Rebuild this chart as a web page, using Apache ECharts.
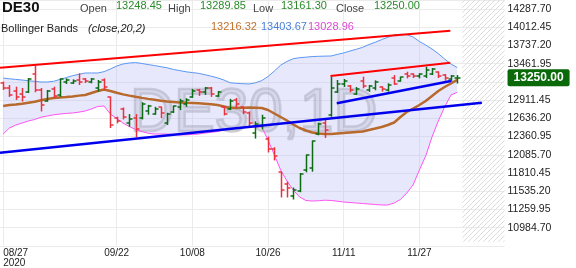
<!DOCTYPE html>
<html><head><meta charset="utf-8">
<script src="https://cdn.jsdelivr.net/npm/echarts@6/dist/echarts.min.js"></script>
<style>html,body{margin:0;padding:0;background:#fff;overflow:hidden}#c{width:576px;height:268px}</style>
</head><body><div id="c"></div>
<script>
// ---- data ----
const dates = ['08/27','08/28','08/31','09/01','09/02','09/03','09/04','09/07','09/08','09/09','09/10','09/11','09/14','09/15','09/16','09/17','09/18','09/21','09/22','09/23','09/24','09/25','09/28','09/29','09/30','10/01','10/02','10/05','10/06','10/07','10/08','10/09','10/12','10/13','10/14','10/15','10/16','10/19','10/20','10/21','10/22','10/23','10/26','10/27','10/28','10/29','10/30','11/02','11/03','11/04','11/05','11/06','11/09','11/10','11/11','11/12','11/13','11/16','11/17','11/18','11/19','11/20','11/23','11/24','11/25','11/26','11/27','11/30','12/01','12/02','12/03','12/04','12/07'];
const futureSlots = 7;
const opens  = [13170,13100,13050,13000,13030,13300,13060,12900,13080,12990,13180,13170,13220,13230,13190,13100,13210,12960,12640,12780,12560,12640,12640,12750,12700,12800,12560,12730,12800,12850,12960,13060,13040,13100,12980,12800,12780,12920,12800,12720,12420,12520,12330,12170,11820,11650,11460,11540,11850,11880,12400,12570,12680,13040,13150,13130,13010,13200,13060,13100,13110,13070,13250,13200,13310,13300,13270,13270,13310,13330,13290,13225,13248.45];
const highs  = [13190,13140,13114,13094,13245,13430,13094,13064,13114,13240,13240,13225,13316,13245,13245,13215,13240,12965,12660,12800,12700,12700,12880,12840,12810,12810,12720,12830,12930,12940,13080,13080,13110,13110,13050,12820,12930,12945,12810,12740,12590,12690,12360,12200,11830,11680,11590,11810,12090,12300,12570,12610,13260,13215,13230,13140,13110,13265,13140,13210,13120,13165,13290,13265,13340,13316,13316,13415,13395,13345,13305,13290,13289.85];
const lows   = [13064,12960,12913,12890,13018,13030,12740,12887,12940,12960,13155,13155,13140,13170,13165,13040,13064,12490,12560,12620,12510,12350,12620,12690,12690,12640,12535,12717,12760,12810,12945,12975,12990,12960,12960,12680,12760,12795,12700,12520,12330,12470,12120,12000,11440,11440,11410,11520,11820,11830,12380,12340,12660,13020,13110,13030,12990,13090,13035,13060,13040,13040,13140,13190,13240,13245,13240,13245,13290,13245,13205,13190,13161.30];
const closes = [13100,12990,12960,12960,13230,13060,12840,13050,12970,13230,13210,13200,13190,13200,13235,13190,13110,12540,12600,12650,12620,12470,12860,12820,12780,12720,12700,12820,12900,12920,13050,13040,13100,13010,13030,12700,12900,12850,12730,12560,12550,12640,12180,12060,11560,11590,11560,11790,12080,12290,12550,12460,13100,13160,13200,13060,13080,13120,13130,13190,13080,13140,13160,13255,13270,13270,13300,13370,13380,13280,13240,13270,13250.00];
const bbUpper  = [13245,13233,13224,13215,13204,13195,13185,13185,13195,13224,13251,13280,13301,13321,13321,13321,13341,13381,13426,13457,13472,13478,13465,13448,13433,13416,13399,13374,13357,13339,13327,13316,13295,13272,13247,13215,13173,13165,13159,13155,13173,13206,13268,13351,13439,13495,13537,13552,13560,13569,13573,13576,13578,13602,13624,13653,13679,13709,13750,13785,13825,13860,13895,13905,13901,13865,13797,13744,13683,13614,13532,13457,13403.67];
const bbMiddle = [12822,12836,12846,12857,12872,12887,12908,12928,12943,12951,12958,12967,12979,12988,13019,13049,13072,13049,13022,12998,12979,12961,12945,12930,12916,12901,12889,12883,12877,12871,12868,12865,12857,12848,12837,12815,12792,12792,12797,12800,12797,12792,12762,12709,12656,12603,12543,12490,12452,12422,12407,12399,12399,12407,12414,12422,12430,12437,12460,12482,12505,12535,12573,12656,12732,12784,12837,12898,12973,13049,13109,13162,13216.32];
const bbLower  = [12399,12490,12535,12565,12596,12618,12653,12671,12689,12701,12710,12717,12729,12747,12777,12815,12822,12701,12634,12565,12513,12467,12437,12410,12399,12399,12399,12392,12384,12387,12392,12399,12414,12425,12437,12460,12475,12490,12497,12505,12505,12505,12309,12082,11855,11689,11553,11448,11395,11387,11391,11399,11395,11384,11372,11364,11357,11349,11342,11334,11327,11327,11357,11410,11508,11629,11855,12067,12354,12596,12807,12988,13028.96];
const xLabelDates = ['08/27','09/22','10/08','10/26','11/11','11/27'];
const yTickMin = 10709.45, yTickStep = 275.25, yAxisTop = 14423.66;
const lastPrice = 13250.00;
// trend lines drawn on the chart: [barIndex, price]
const trendRedLong   = [[-0.5, 13399], [70.9, 13960]];
const trendBlueLong  = [[-0.5, 12115], [75.9, 12872]];
const trendRedShort  = [[51.9, 13276], [70.9, 13476]];
const trendBlueShort = [[52.9, 12863], [71.0, 13200]];
const futureArea = [[72.8, 10770], [79.5, 14423.66]];

// ---- styles ----
const GREEN = '#0d6b12', RED = '#e8333c';
const FONT = 'Arial, "Liberation Sans", sans-serif';

const cats = dates.concat(Array(futureSlots).fill(''));
const ohlc = dates.map((d, i) => [i, opens[i], highs[i], lows[i], closes[i]]);
const pts = arr => arr.map((v, i) => [i, v]);

function renderOHLC(params, api) {
  const i = api.value(0);
  const o = api.value(1), h = api.value(2), l = api.value(3), c = api.value(4);
  const ph = api.coord([i, h]), pl = api.coord([i, l]);
  const po = api.coord([i, o]), pc = api.coord([i, c]);
  const color = c >= o ? GREEN : RED;
  const x = Math.round(ph[0]) + 0.5;
  const t = 3;
  const yo = Math.round(po[1]), yc = Math.round(pc[1]);
  return {type: 'group', children: [
    {type: 'line', shape: {x1: x, y1: ph[1], x2: x, y2: pl[1]}, style: {stroke: color, lineWidth: 1.5}},
    {type: 'line', shape: {x1: x - t, y1: yo, x2: x, y2: yo}, style: {stroke: color, lineWidth: 1.5}},
    {type: 'line', shape: {x1: x, y1: yc, x2: x + t, y2: yc}, style: {stroke: color, lineWidth: 1.5}}
  ]};
}
function renderBand(params, api) {
  const p = [];
  for (let i = 0; i < bbUpper.length; i++) p.push(api.coord([i, bbUpper[i]]));
  for (let i = bbLower.length - 1; i >= 0; i--) p.push(api.coord([i, bbLower[i]]));
  return {type: 'polygon', shape: {points: p}, style: {fill: 'rgba(185,185,245,0.32)'}};
}

const hatch = document.createElement('canvas');
hatch.width = 5; hatch.height = 5;
(function () {
  const g = hatch.getContext('2d');
  g.strokeStyle = '#dcdcdc'; g.lineWidth = 1;
  g.beginPath(); g.moveTo(-1, 6); g.lineTo(6, -1); g.stroke();
})();

const labelIdx = xLabelDates.map(d => dates.indexOf(d));
const showAt = idx => labelIdx.indexOf(idx) >= 0;

const chart = echarts.init(document.getElementById('c'), null, {renderer: 'canvas'});
chart.setOption({
  animation: false,
  backgroundColor: '#fff',
  grid: {left: -1.87, right: 71.47, top: 0, bottom: 22.14, containLabel: false},
  xAxis: [{
    type: 'category', data: cats, boundaryGap: true,
    axisLine: {show: false}, axisTick: {show: false},
    axisLabel: {
      interval: (idx) => showAt(idx), margin: 2, fontSize: 10, color: '#222', fontFamily: FONT, lineHeight: 10,
      alignMinLabel: 'left',
      formatter: (v, idx) => idx === 0 ? v + '\n2020' : v
    },
    splitLine: {show: true, interval: (idx) => showAt(idx), alignWithLabel: true, lineStyle: {color: '#ebebeb', width: 1}}
  }, {
    type: 'value', min: -0.5, max: 79.5, show: false
  }],
  yAxis: {
    type: 'value', position: 'right', min: yTickMin, max: yAxisTop, interval: yTickStep,
    axisLine: {show: false}, axisTick: {show: false},
    splitLine: {lineStyle: {color: '#ebebeb', width: 1}},
    axisLabel: {showMinLabel: false, showMaxLabel: false, margin: 3, fontSize: 10.5, color: '#222', fontFamily: FONT,
      formatter: v => v.toFixed(2)}
  },
  graphic: [
    {type: 'text', x: 130, y: 114, z: 1, silent: true, style: {text: 'DE30,1D', font: '61px ' + FONT, fill: 'rgba(185,185,185,0.35)', stroke: 'rgba(140,140,140,0.4)', lineWidth: 2.5, verticalAlign: 'middle'}},
    {type: 'text', x: 2, y: 0, z: 10, style: {text: 'DE30', font: 'bold 15px ' + FONT, fill: '#111', verticalAlign: 'top'}},
    {type: 'text', x: 80, y: 3, z: 10, style: {text: 'Open', font: '11px ' + FONT, fill: '#444', verticalAlign: 'top'}},
    {type: 'text', x: 116, y: 0, z: 10, style: {text: opens[opens.length - 1].toFixed(2), font: '11px ' + FONT, fill: '#2a8a2a', verticalAlign: 'top'}},
    {type: 'text', x: 168, y: 3, z: 10, style: {text: 'High', font: '11px ' + FONT, fill: '#444', verticalAlign: 'top'}},
    {type: 'text', x: 200, y: 0, z: 10, style: {text: highs[highs.length - 1].toFixed(2), font: '11px ' + FONT, fill: '#2a8a2a', verticalAlign: 'top'}},
    {type: 'text', x: 253, y: 3, z: 10, style: {text: 'Low', font: '11px ' + FONT, fill: '#444', verticalAlign: 'top'}},
    {type: 'text', x: 281, y: 0, z: 10, style: {text: lows[lows.length - 1].toFixed(2), font: '11px ' + FONT, fill: '#2a8a2a', verticalAlign: 'top'}},
    {type: 'text', x: 336, y: 3, z: 10, style: {text: 'Close', font: '11px ' + FONT, fill: '#444', verticalAlign: 'top'}},
    {type: 'text', x: 374, y: 0, z: 10, style: {text: closes[closes.length - 1].toFixed(2), font: '11px ' + FONT, fill: '#2a8a2a', verticalAlign: 'top'}},
    {type: 'text', x: 1, y: 23, z: 10, style: {text: 'Bollinger Bands', font: '11px ' + FONT, fill: '#222', verticalAlign: 'top'}},
    {type: 'text', x: 88, y: 23, z: 10, style: {text: '(close,20,2)', font: 'italic 11px ' + FONT, fill: '#222', verticalAlign: 'top'}},
    {type: 'text', x: 211, y: 21, z: 10, style: {text: bbMiddle[bbMiddle.length - 1].toFixed(2), font: '11px ' + FONT, fill: '#c0702a', verticalAlign: 'top'}},
    {type: 'text', x: 261, y: 21, z: 10, style: {text: bbUpper[bbUpper.length - 1].toFixed(2), font: '11px ' + FONT, fill: '#4a80d8', verticalAlign: 'top'}},
    {type: 'text', x: 308, y: 21, z: 10, style: {text: bbLower[bbLower.length - 1].toFixed(2), font: '11px ' + FONT, fill: '#d84ad0', verticalAlign: 'top'}}
  ],
  series: [
    {type: 'custom', xAxisIndex: 1, z: 1, silent: true, data: [[0, bbUpper[0]]], renderItem: renderBand,
      markArea: {silent: true, itemStyle: {color: {image: hatch, repeat: 'repeat'}}, data: [[{xAxis: futureArea[0][0], yAxis: futureArea[0][1]}, {xAxis: futureArea[1][0], yAxis: futureArea[1][1]}]]}},
    {type: 'line', xAxisIndex: 1, z: 3, data: pts(bbUpper), symbol: 'none', lineStyle: {color: '#5b98f2', width: 1}},
    {type: 'line', xAxisIndex: 1, z: 3, data: pts(bbLower), symbol: 'none', lineStyle: {color: '#ff55f2', width: 1}},
    {type: 'line', xAxisIndex: 1, z: 4, data: pts(bbMiddle), symbol: 'none', lineStyle: {color: '#b8692c', width: 2.5}},
    {type: 'custom', xAxisIndex: 1, z: 5, data: ohlc, renderItem: renderOHLC, encode: {x: 0, y: [1, 2, 3, 4]},
      markLine: {silent: true, symbol: ['none', 'triangle'], symbolSize: [9, 5], symbolRotate: 90,
        lineStyle: {color: 'rgba(0,0,0,0)', width: 0, type: 'solid'},
        itemStyle: {color: '#0a6a0a'},
        label: {show: true, position: 'end', distance: 3, formatter: lastPrice.toFixed(2), color: '#fff', backgroundColor: '#0a6a0a',
          fontWeight: 'bold', fontSize: 12, fontFamily: FONT, padding: [3, 6, 2, 6], borderRadius: 2},
        data: [{yAxis: lastPrice, lineStyle: {color: 'rgba(0,0,0,0)'}, symbolRotate: 90}]}},
    {type: 'line', xAxisIndex: 1, z: 6, data: trendRedLong, symbol: 'none', lineStyle: {color: '#ff0000', width: 2}},
    {type: 'line', xAxisIndex: 1, z: 6, data: trendBlueLong, symbol: 'none', lineStyle: {color: '#0000ee', width: 2.5}},
    {type: 'line', xAxisIndex: 1, z: 6, data: trendRedShort, symbol: 'none', lineStyle: {color: '#ff0000', width: 2}},
    {type: 'line', xAxisIndex: 1, z: 6, data: trendBlueShort, symbol: 'none', lineStyle: {color: '#0000ee', width: 2.5}}
  ]
});
</script></body></html>
